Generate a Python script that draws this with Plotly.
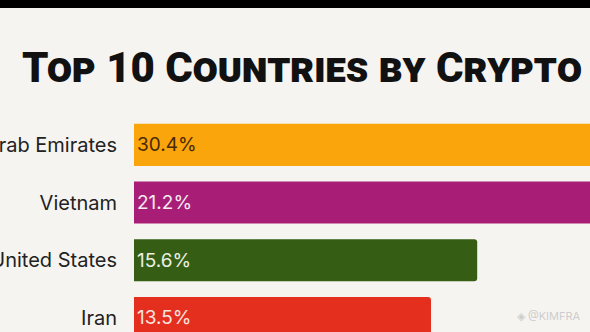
import plotly.graph_objects as go

countries = ["United Arab Emirates", "Vietnam", "United States", "Iran"]
values = [30.4, 21.2, 15.6, 13.5]
labels = ["30.4%", "21.2%", "15.6%", "13.5%"]
colors = ["#F9A50B", "#A81E77", "#355E14", "#E42F1F"]
text_colors = ["#4A2A05", "#F4EAF0", "#EAF0E4", "#F8E4E0"]
title_text = "Top 10 Countries by Crypto"

W, H = 590, 332
L, T = 134, 116
plot_h = H - T

fig = go.Figure(go.Bar(
    x=values, y=countries, orientation="h",
    marker=dict(color=colors, line=dict(width=0)),
    text=labels, textposition="inside", insidetextanchor="start",
    textfont=dict(family="Inter, Lato, sans-serif", size=19, color=text_colors),
    width=0.73, cliponaxis=True,
))

def py(pix):
    return (H - pix) / plot_h

def px(pix):
    return (pix - L) / (W - L)

fig.add_shape(type="rect", xref="paper", yref="paper",
              x0=px(-5), x1=px(W + 5), y0=py(8), y1=py(-5),
              fillcolor="#000000", line=dict(width=0), layer="above")

fig.add_annotation(xref="paper", yref="paper", x=px(302), y=py(67),
                   text=title_text, showarrow=False, xanchor="center", yanchor="middle",
                   font=dict(family="Roboto, Liberation Sans, sans-serif",
                             size=42, color="#111111", weight=900, variant="small-caps"))

fig.add_annotation(xref="paper", yref="paper", x=px(583), y=py(316),
                   text="◈ @KIMFRA", showarrow=False, xanchor="right", yanchor="middle",
                   font=dict(family="Inter, sans-serif", size=11, color="rgba(200,200,200,0.9)"))

fig.update_layout(
    width=W, height=H,
    margin=dict(l=L, r=0, t=T, b=0, pad=0),
    paper_bgcolor="#F6F4F1", plot_bgcolor="#F6F4F1",
    showlegend=False, barcornerradius=3,
    xaxis=dict(range=[0, (W - L) / 22.0], visible=False, fixedrange=True),
    yaxis=dict(range=[-0.5 + plot_h / 57.7, -0.5], automargin=False,
               showgrid=False, zeroline=False, showline=False, ticks="",
               ticklabelstandoff=16,
               tickfont=dict(family="Inter, Lato, sans-serif", size=20, color="#222222")),
)

fig.write_html("out.html")
